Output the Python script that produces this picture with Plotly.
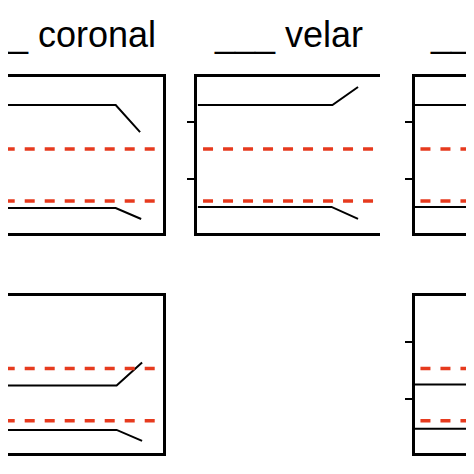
import plotly.graph_objects as go

# panel values, y in 0..100 panel units, x in 0..100
red_levels = [53.8, 20.5]

coronal_top_x = [0, 74, 87.4]
coronal_top_y = [82, 82, 64.7]
coronal_bot_x = [0, 74, 88]
coronal_bot_y = [16, 16, 9]

velar_top_x = [0.5, 74, 88]
velar_top_y = [82, 82, 93.6]
velar_bot_x = [0.5, 73.5, 88]
velar_bot_y = [16.7, 16.7, 9]

third_top_x = [0, 100]
third_top_y = [82, 82]
third_bot_x = [0, 100]
third_bot_y = [16.7, 16.7]

coronal2_top_x = [0, 74.5, 88.5]
coronal2_top_y = [43, 43, 57.7]
coronal2_bot_x = [0, 74.5, 88.5]
coronal2_bot_y = [14.7, 14.7, 7.7]

third2_top_x = [0, 100]
third2_top_y = [43.6, 43.6]
third2_bot_x = [0, 100]
third2_bot_y = [15.4, 15.4]

ticks_top = [71, 34.6]
ticks_bottom = [70.5, 34.6]

W = 474
OFF = 8  # page margin offset
RED = "#e63a1e"


def px(p):
    return (p - OFF) / W


def py(p):
    return 1 - (p - OFF) / W


fig = go.Figure()

panels = [
    ("1", [0, px(163)], [py(233), py(77)], [14.8, 100],
     [(coronal_top_x, coronal_top_y), (coronal_bot_x, coronal_bot_y)], None, "right", [2, 96]),
    ("2", [px(197), px(380)], [py(233), py(77)], [0, 100],
     [(velar_top_x, velar_top_y), (velar_bot_x, velar_bot_y)], ticks_top, "left", [3.3, 97.8]),
    ("3", [px(415), 1], [py(233), py(77)], [0, 36.8],
     [(third_top_x, third_top_y), (third_bot_x, third_bot_y)], ticks_top, "left", [3, 100]),
    ("4", [0, px(163)], [py(453), py(296)], [14.8, 100],
     [(coronal2_top_x, coronal2_top_y), (coronal2_bot_x, coronal2_bot_y)], None, "right", [2, 96]),
    ("5", [px(415), 1], [py(453), py(296)], [0, 36.8],
     [(third2_top_x, third2_top_y), (third2_bot_x, third2_bot_y)], ticks_bottom, "left", [3, 100]),
]

for name, xd, yd, xr, lines, ticks, side, red_x in panels:
    xa = "x" if name == "1" else "x" + name
    ya = "y" if name == "1" else "y" + name
    for lx, ly in lines:
        fig.add_trace(go.Scatter(x=lx, y=ly, mode="lines", xaxis=xa, yaxis=ya,
                                 line=dict(color="black", width=2), showlegend=False))
    for lv in red_levels:
        fig.add_trace(go.Scatter(x=red_x, y=[lv, lv], mode="lines", xaxis=xa, yaxis=ya,
                                 line=dict(color=RED, width=3.5, dash="10px,10px"), showlegend=False))
    key = "" if name == "1" else name
    fig.layout["xaxis" + key] = dict(domain=xd, range=xr, anchor=ya, showline=True, mirror=True,
                                     linecolor="black", linewidth=2.5, showgrid=False,
                                     zeroline=False, showticklabels=False, ticks="")
    fig.layout["yaxis" + key] = dict(domain=yd, range=[0, 100], anchor=xa, side=side,
                                     showline=True, linecolor="black", linewidth=2.5,
                                     showgrid=False, zeroline=False, showticklabels=False,
                                     tickvals=ticks if ticks else [],
                                     ticks="outside" if ticks else "", ticklen=7,
                                     tickwidth=2, tickcolor="black")

title_font = dict(family="Liberation Sans, Arial", size=36, color="black")
fig.add_annotation(text="__ coronal", x=px(158), y=py(35), xref="paper", yref="paper",
                   xanchor="right", yanchor="middle", showarrow=False, font=title_font)
fig.add_annotation(text="___ velar", x=px(288), y=py(35), xref="paper", yref="paper",
                   xanchor="center", yanchor="middle", showarrow=False, font=title_font)
fig.add_annotation(text="___", x=px(428), y=py(35), xref="paper", yref="paper",
                   xanchor="left", yanchor="middle", showarrow=False, font=title_font)

fig.update_layout(width=W, height=W, margin=dict(l=0, r=0, t=0, b=0),
                  plot_bgcolor="white", paper_bgcolor="white")

fig.write_html("out.html")
